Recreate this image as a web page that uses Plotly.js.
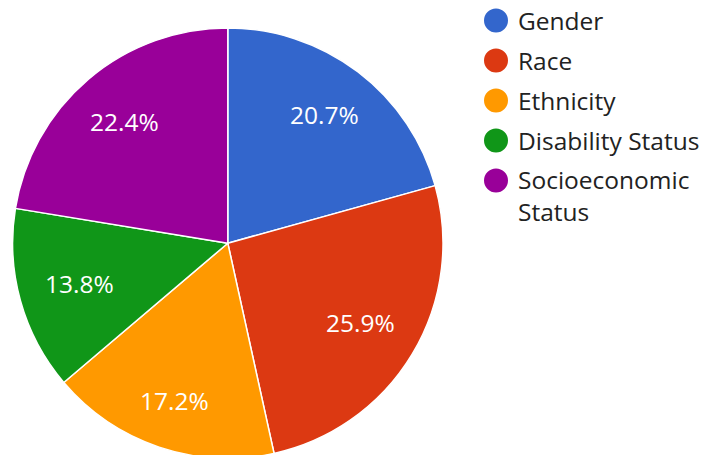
<!DOCTYPE html>
<html>
<head>
<meta charset="utf-8">
<script src="https://cdn.plot.ly/plotly-3.0.1.min.js"></script>
<style>
html,body{margin:0;padding:0;overflow:hidden;background:#fff;}
#chart{width:704px;height:470px;}
</style>
</head>
<body>
<div id="chart"></div>
<script>
const categories = ["Gender", "Race", "Ethnicity", "Disability Status", "Socioeconomic Status"];
const legendLabels = ["Gender", "Race", "Ethnicity", "Disability Status", "Socioeconomic<br>Status"];
const values = [12, 15, 10, 8, 13];
const colors = ["#3366cc", "#dc3912", "#ff9900", "#109618", "#990099"];

const W = 704, H = 470;
const px = x => x / W;
const py = y => 1 - y / H;

// pie geometry (pixels)
const CX = 227.8, CY = 243.2, R = 215.2;

const pie = {
  type: "pie",
  labels: categories,
  values: values,
  sort: false,
  direction: "clockwise",
  rotation: 0,
  marker: {colors: colors, line: {color: "#ffffff", width: 1.5}},
  textinfo: "none",
  hoverinfo: "label+percent",
  showlegend: false,
  domain: {x: [px(CX - R), px(CX + R)], y: [py(CY + R), py(CY - R)]}
};

const shapes = [];
const annotations = [];
const FONT = "Open Sans";
const FS = 24.5;

// slice percentage labels, placed from the data's cumulative angles
const total = values.reduce((a, b) => a + b, 0);
let cum = 0;
values.forEach((v, i) => {
  const frac = v / total;
  const mid = (cum + frac / 2) * 2 * Math.PI;
  cum += frac;
  const s = Math.sin(mid), c = Math.cos(mid);
  const rl = 0.88 * R - (33 * Math.abs(s) + 12 * Math.abs(c));
  annotations.push({xref: "paper", yref: "paper",
    x: px(CX + rl * s), y: py(CY - rl * c - 1),
    xanchor: "center", yanchor: "middle", showarrow: false,
    text: (frac * 100).toFixed(1) + "%",
    font: {family: FONT, size: FS, color: "#ffffff"}});
});

// legend
categories.forEach((c, i) => {
  const cy = 20.5 + 40 * i;
  shapes.push({type: "circle", xref: "paper", yref: "paper",
    x0: px(484), x1: px(508), y0: py(cy + 12), y1: py(cy - 12),
    fillcolor: colors[i], line: {width: 0}});
  const multi = legendLabels[i].indexOf("<br>") >= 0;
  annotations.push({xref: "paper", yref: "paper", x: px(516), y: py(multi ? cy - 19.5 : cy),
    xanchor: "left", yanchor: multi ? "top" : "middle", align: "left", showarrow: false,
    text: legendLabels[i], font: {family: FONT, size: FS, color: "#222222"}});
});

const layout = {
  width: W, height: H,
  margin: {l: 0, r: 0, t: 0, b: 0},
  paper_bgcolor: "#ffffff",
  showlegend: false,
  shapes: shapes,
  annotations: annotations
};

Plotly.newPlot("chart", [pie], layout, {displayModeBar: false, staticPlot: true});
</script>
</body>
</html>
